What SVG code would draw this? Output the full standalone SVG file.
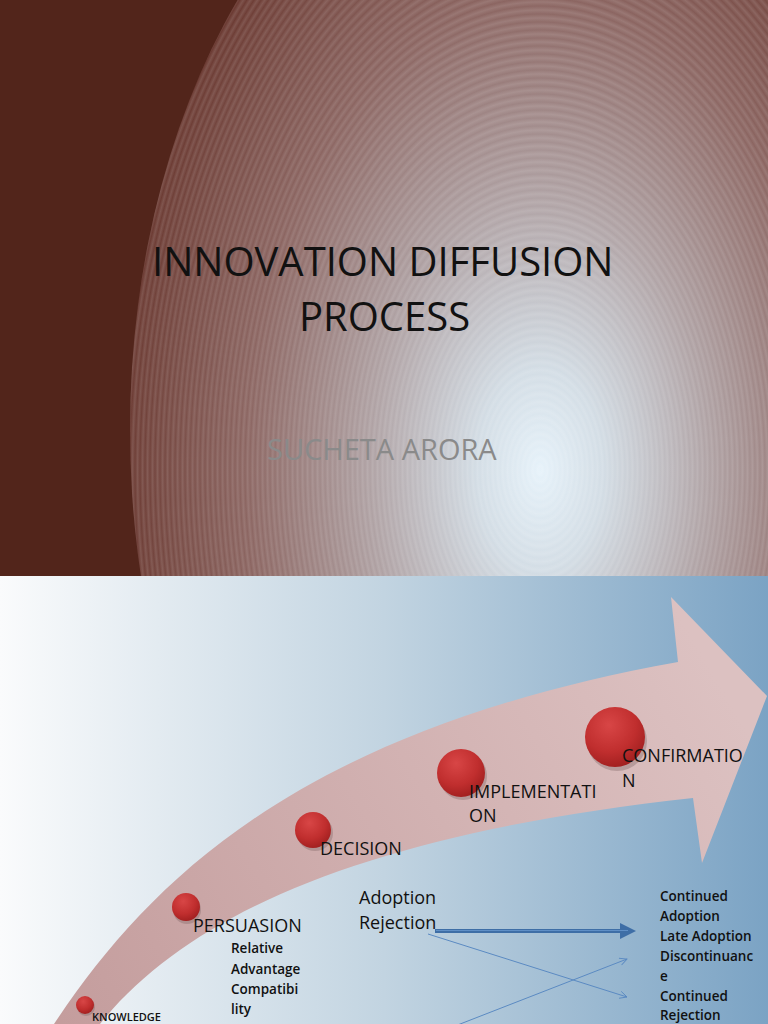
<svg xmlns="http://www.w3.org/2000/svg" width="768" height="1024" viewBox="0 0 768 1024">
<style>
.t{font-family:"Open Sans","Liberation Sans",sans-serif;fill:#111}
.s{font-size:18px}
.b{font-size:13.5px;font-weight:600}
</style>
<defs>
<clipPath id="top"><rect x="0" y="0" width="768" height="576"/></clipPath>
<radialGradient id="glow" gradientUnits="userSpaceOnUse" cx="540" cy="470" r="420" gradientTransform="translate(540 470) scale(1 1.6) translate(-540 -470)">
<stop offset="0" stop-color="#e6f2fa"/>
<stop offset="0.15" stop-color="#d3dde5"/>
<stop offset="0.4" stop-color="#b0a3a5"/>
<stop offset="0.7" stop-color="#8c6662"/>
<stop offset="1" stop-color="#6c3b33"/>
</radialGradient>
<radialGradient id="rings" gradientUnits="userSpaceOnUse" cx="540" cy="470" r="5" spreadMethod="repeat" gradientTransform="translate(540 470) scale(1 1.6) translate(-540 -470)">
<stop offset="0" stop-color="#ffffff" stop-opacity="0"/>
<stop offset="0.5" stop-color="#ffffff" stop-opacity="0.12"/>
<stop offset="1" stop-color="#ffffff" stop-opacity="0"/>
</radialGradient>
<linearGradient id="bg2" x1="0" y1="0" x2="1" y2="0">
<stop offset="0" stop-color="#fafbfc"/>
<stop offset="0.5" stop-color="#c2d4e1"/>
<stop offset="1" stop-color="#7ba3c4"/>
</linearGradient>
<linearGradient id="arrowFill" gradientUnits="userSpaceOnUse" x1="60" y1="1024" x2="700" y2="650">
<stop offset="0" stop-color="#c49d9d"/>
<stop offset="1" stop-color="#dcc1c1"/>
</linearGradient>
<radialGradient id="ball" cx="0.4" cy="0.3" r="0.75">
<stop offset="0" stop-color="#d84646"/>
<stop offset="0.6" stop-color="#c02e2e"/>
<stop offset="1" stop-color="#9e1e1e"/>
</radialGradient>
<marker id="open" viewBox="0 0 10 10" refX="9" refY="5" markerWidth="9" markerHeight="9" markerUnits="userSpaceOnUse" orient="auto">
<path d="M1,1 L9,5 L1,9" fill="none" stroke="#5b8ac2" stroke-width="1"/>
</marker>
<marker id="block" viewBox="0 0 10 10" refX="5" refY="5" markerWidth="4" markerHeight="4" orient="auto">
<path d="M0,0 L10,5 L0,10 z" fill="#3e6ea6"/>
</marker>
</defs>

<!-- Slide 1 -->
<g id="slide1">
<rect x="0" y="0" width="768" height="576" fill="#52251b"/>
<g clip-path="url(#top)">
<ellipse cx="545" cy="430" rx="415" ry="640" fill="url(#glow)"/>
<ellipse cx="545" cy="430" rx="415" ry="640" fill="url(#rings)"/>
</g>
<text class="t" x="152" y="276" font-size="40" fill="#0a0a0a">INNOVATION DIFFUSION</text>
<text class="t" x="299" y="331" font-size="40" fill="#0a0a0a">PROCESS</text>
<text x="267" y="460" font-size="29" font-family="Open Sans, Liberation Sans, sans-serif" fill="#8a8a8a">SUCHETA ARORA</text>
</g>

<!-- Slide 2 -->
<rect x="0" y="576" width="768" height="448" fill="url(#bg2)"/>
<g id="curved-arrow">
<path d="M54,1024 C150,880 300,730 678,662 L671,597 L767,696 L702,863 L693,798 C400,830 200,900 100,1024 Z" fill="url(#arrowFill)"/>
</g>

<g id="knowledge">
<circle cx="86" cy="1007" r="9" fill="#7a6060" opacity="0.35"/>
<circle cx="85" cy="1005" r="9" fill="url(#ball)"/>
<text class="t" x="92" y="1021" font-size="11" font-weight="600" fill="#222">KNOWLEDGE</text>
</g>
<g id="persuasion">
<circle cx="187" cy="910" r="14" fill="#7a6060" opacity="0.35"/>
<circle cx="186" cy="907" r="14" fill="url(#ball)"/>
<text class="t s" x="193" y="932">PERSUASION</text>
<text class="t b" x="231" y="953">Relative</text>
<text class="t b" x="231" y="974">Advantage</text>
<text class="t b" x="231" y="994">Compatibi</text>
<text class="t b" x="231" y="1014">lity</text>
<text class="t b" x="231" y="1035">Complexity</text>
</g>
<g id="decision">
<circle cx="315" cy="833" r="18" fill="#7a6060" opacity="0.35"/>
<circle cx="313" cy="830" r="18" fill="url(#ball)"/>
<text class="t s" x="320" y="855">DECISION</text>
<text class="t s" x="359" y="904">Adoption</text>
<text class="t s" x="359" y="929">Rejection</text>
</g>
<g id="implementation">
<circle cx="463" cy="776" r="24" fill="#7a6060" opacity="0.35"/>
<circle cx="461" cy="773" r="24" fill="url(#ball)"/>
<text class="t s" x="469" y="798">IMPLEMENTATI</text>
<text class="t s" x="469" y="822">ON</text>
</g>
<g id="confirmation">
<circle cx="617" cy="741" r="30" fill="#7a6060" opacity="0.35"/>
<circle cx="615" cy="737" r="30" fill="url(#ball)"/>
<text class="t s" x="622" y="762">CONFIRMATIO</text>
<text class="t s" x="622" y="787">N</text>
</g>
<g id="outcomes">
<text class="t b" x="660" y="901">Continued</text>
<text class="t b" x="660" y="921">Adoption</text>
<text class="t b" x="660" y="941">Late Adoption</text>
<text class="t b" x="660" y="961">Discontinuanc</text>
<text class="t b" x="660" y="981">e</text>
<text class="t b" x="660" y="1001">Continued</text>
<text class="t b" x="660" y="1020">Rejection</text>
</g>

<g id="connectors">
<line x1="435" y1="931" x2="628" y2="931" stroke="#3e6ea6" stroke-width="4" marker-end="url(#block)"/>
<line x1="436" y1="930.5" x2="628" y2="930.5" stroke="#5f8fc6" stroke-width="1.2"/>
<line x1="428" y1="934" x2="627" y2="997" stroke="#5b8ac2" stroke-width="1" marker-end="url(#open)"/>
<line x1="455" y1="1026" x2="627" y2="959" stroke="#5b8ac2" stroke-width="1" marker-end="url(#open)"/>
</g>
</svg>
